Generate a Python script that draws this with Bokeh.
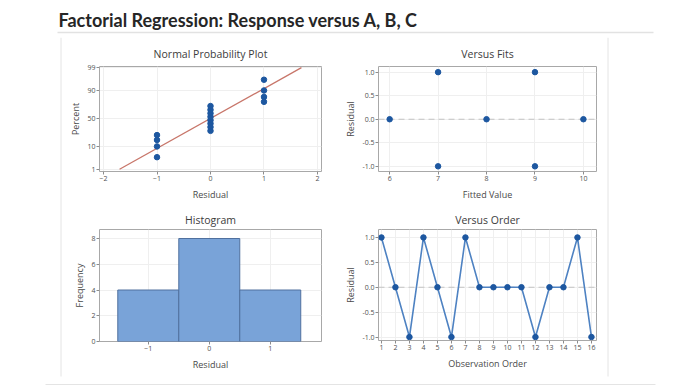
from statistics import NormalDist
from bokeh.plotting import figure
from bokeh.layouts import column, row
from bokeh.models import FixedTicker, Range1d, Span
from bokeh.embed import file_html
from bokeh.resources import INLINE
from bokeh.core.properties import value

# ---------------- data ----------------
observation_order = [1, 2, 3, 4, 5, 6, 7, 8, 9, 10, 11, 12, 13, 14, 15, 16]
residuals = [1, 0, -1, 1, 0, -1, 1, 0, 0, 0, 0, -1, 0, 0, 1, -1]

fitted_values = [6, 7, 7, 8, 9, 9, 10]
fit_residuals = [0, 1, -1, 0, 1, -1, 0]

npp_residuals = [-1, -1, -1, -1, 0, 0, 0, 0, 0, 0, 0, 0, 1, 1, 1, 1]
npp_percent = [3.8, 10.0, 16.2, 22.3, 28.5, 34.6, 40.8, 46.9,
               53.1, 59.2, 65.4, 71.5, 77.7, 83.8, 90.0, 96.2]
fit_line_residual = [-1.70, 1.70]
fit_line_percent = [1, 99]
percent_ticks = [1, 10, 50, 90, 99]

hist_bins = [-1, 0, 1]
hist_counts = [4, 8, 4]

title_text = "Factorial Regression: Response versus A, B, C"

# ---------------- style ----------------
FONT = "Open Sans"
DOT = "#1D57A0"
TXT = "#4A4A4A"
nd = NormalDist()


def probit(pcts):
    return [nd.inv_cdf(v / 100.0) for v in pcts]


def make_fig(w, h, bl, br, bt, bb, xr, yr, title, title_standoff):
    p = figure(width=w, height=h, min_border_left=bl, min_border_right=br,
               min_border_top=bt, min_border_bottom=bb,
               x_range=Range1d(*xr), y_range=Range1d(*yr),
               toolbar_location=None, output_backend="svg", title=title)
    p.background_fill_color = "white"
    p.border_fill_color = "white"
    p.outline_line_color = "#A8A8A8"
    p.outline_line_width = 1
    p.title.align = "center"
    p.title.text_font = FONT
    p.title.text_font_size = "10.5px"
    p.title.text_font_style = "normal"
    p.title.text_color = "#3C3C3C"
    p.title.standoff = title_standoff
    for ax in p.axis:
        ax.axis_line_color = None
        ax.major_tick_line_color = "#8C8C8C"
        ax.major_tick_out = 3
        ax.major_tick_in = 0
        ax.minor_tick_line_color = None
        ax.major_label_text_font = FONT
        ax.major_label_text_font_size = "7px"
        ax.major_label_text_color = "#505050"
        ax.major_label_standoff = 1
        ax.axis_label_text_font = FONT
        ax.axis_label_text_font_size = "9px"
        ax.axis_label_text_font_style = "normal"
        ax.axis_label_text_color = TXT
    p.xaxis.axis_label_standoff = 4
    p.yaxis.axis_label_standoff = 2
    p.grid.grid_line_color = "#EFEFEF"
    p.grid.grid_line_width = 1
    return p


def zero_line(p):
    p.add_layout(Span(location=0, dimension="width", line_color="#C4C4C4",
                      line_dash="6 4", line_width=1.2, level="underlay"))


def strip(w, h, xr, yr):
    p = figure(width=w, height=h, min_border=0, x_range=Range1d(*xr),
               y_range=Range1d(*yr), x_axis_type=None, y_axis_type=None,
               toolbar_location=None, output_backend="svg")
    p.outline_line_color = None
    p.background_fill_color = "white"
    p.border_fill_color = "white"
    return p


# ---------------- Normal probability plot ----------------
p1 = make_fig(274, 170, 37, 15, 29, 36, (-2.075, 2.075), (-2.43, 2.38),
              "Normal Probability Plot", 11)
p1.xaxis.ticker = FixedTicker(ticks=[-2, -1, 0, 1, 2])
tick_z = probit(percent_ticks)
p1.yaxis.ticker = FixedTicker(ticks=tick_z)
p1.yaxis.major_label_overrides = {z: str(t) for z, t in zip(tick_z, percent_ticks)}
p1.xaxis.axis_label = "Residual"
p1.yaxis.axis_label = "Percent"
p1.line(fit_line_residual, probit(fit_line_percent), line_color="#C8766A", line_width=1.3)
p1.scatter(npp_residuals, probit(npp_percent), size=5.5, color=DOT)

# ---------------- Versus fits ----------------
p2 = make_fig(270, 170, 41, 10, 29, 36, (5.77, 10.27), (-1.11, 1.12), "Versus Fits", 11)
p2.xaxis.ticker = FixedTicker(ticks=[6, 7, 8, 9, 10])
p2.yaxis.ticker = FixedTicker(ticks=[-1.0, -0.5, 0.0, 0.5, 1.0])
p2.yaxis.major_label_overrides = {-1.0: "-1.0", -0.5: "-0.5", 0.0: "0.0", 0.5: "0.5", 1.0: "1.0"}
p2.xaxis.axis_label = "Fitted Value"
p2.yaxis.axis_label = "Residual"
zero_line(p2)
p2.scatter(fitted_values, fit_residuals, size=5.5, color=DOT)

# ---------------- Histogram ----------------
p3 = make_fig(274, 170, 36, 14, 22, 36, (-1.8, 1.84), (0, 8.7), "Histogram", 6)
p3.xaxis.ticker = FixedTicker(ticks=[-1, 0, 1])
p3.yaxis.ticker = FixedTicker(ticks=[0, 2, 4, 6, 8])
p3.xaxis.axis_label = "Residual"
p3.yaxis.axis_label = "Frequency"
p3.vbar(x=hist_bins, width=1.0, top=hist_counts, bottom=0,
        fill_color="#79A3D8", line_color="#50709E", line_width=1)

# ---------------- Versus order ----------------
p4 = make_fig(270, 170, 42, 10, 22, 37, (0.79, 16.36), (-1.07, 1.16), "Versus Order", 6)
p4.xaxis.ticker = FixedTicker(ticks=observation_order)
p4.yaxis.ticker = FixedTicker(ticks=[-1.0, -0.5, 0.0, 0.5, 1.0])
p4.yaxis.major_label_overrides = {-1.0: "-1.0", -0.5: "-0.5", 0.0: "0.0", 0.5: "0.5", 1.0: "1.0"}
p4.xaxis.axis_label = "Observation Order"
p4.yaxis.axis_label = "Residual"
zero_line(p4)
p4.line(observation_order, residuals, line_color="#4E82C2", line_width=1.6)
p4.scatter(observation_order, residuals, size=5.5, color=DOT)

# ---------------- frame decorations ----------------
header = strip(692, 37, (0, 692), (0, 37))
header.text(x=[58], y=[17.5], text=[title_text], text_font=value("Lato"),
            text_font_size="18px", text_font_style="bold", text_color="#262626",
            text_baseline="alphabetic", text_align="left")
header.segment(x0=[57], y0=[5], x1=[653], y1=[5], line_color="#E2E2E2", line_width=1.5)

left_strip = strip(62, 340, (0, 62), (0, 340))
left_strip.segment(x0=[60.5], y0=[1], x1=[60.5], y1=[340], line_color="#E4E4E4", line_width=1)

right_strip = strip(86, 340, (0, 86), (0, 340))
right_strip.segment(x0=[1.5], y0=[1], x1=[1.5], y1=[340], line_color="#E4E4E4", line_width=1)

footer = strip(692, 8, (0, 692), (0, 8))
footer.quad(left=[45], right=[655], bottom=[2], top=[5], fill_color="#C9C9C9", line_color=None)

layout = column(header,
                row(left_strip, column(p1, p3), column(p2, p4), right_strip),
                footer)

open("out.html", "w").write(file_html(layout, INLINE))
